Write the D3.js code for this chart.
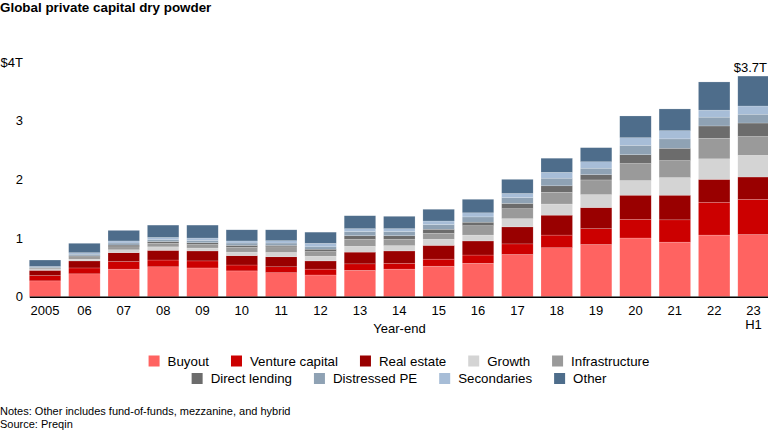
<!DOCTYPE html>
<html>
<head>
<meta charset="utf-8">
<script src="https://cdn.jsdelivr.net/npm/d3@7"></script>
<style>
  body { margin: 0; background: #fff; }
  svg { display: block; font-family: "Liberation Sans", Arial, sans-serif; }
  .axis text { font-size: 13px; fill: #000; }
</style>
</head>
<body>
<div id="chart-area"></div>
<script>
// SVG size
var width = 768,
	height = 432;

// Data (trillions of US$)
var years = ["2005", "06", "07", "08", "09", "10", "11", "12", "13", "14", "15", "16", "17", "18", "19", "20", "21", "22", "23"];
var types = ["Buyout", "Venture capital", "Real estate", "Growth", "Infrastructure", "Direct lending", "Distressed PE", "Secondaries", "Other"];
var colors = ["#ff6361", "#cc0000", "#990000", "#d4d4d4", "#9a9a9a", "#6c6c6c", "#8fa2b4", "#a7bdd7", "#4e6d8b"];

var buyout         = [0.27, 0.39, 0.47, 0.51, 0.49, 0.44, 0.41, 0.37, 0.45, 0.47, 0.52, 0.57, 0.72, 0.835, 0.89, 1.00, 0.93, 1.05, 1.06];
var ventureCapital = [0.09, 0.10, 0.13, 0.115, 0.12, 0.10, 0.10, 0.10, 0.11, 0.10, 0.12, 0.14, 0.18, 0.215, 0.27, 0.32, 0.38, 0.56, 0.60];
var realEstate     = [0.09, 0.12, 0.15, 0.165, 0.17, 0.16, 0.17, 0.14, 0.20, 0.21, 0.235, 0.24, 0.29, 0.34, 0.36, 0.41, 0.42, 0.39, 0.38];
var growth         = [0.015, 0.03, 0.05, 0.06, 0.05, 0.06, 0.075, 0.08, 0.10, 0.09, 0.105, 0.10, 0.14, 0.19, 0.22, 0.25, 0.30, 0.35, 0.37];
var infrastructure = [0.015, 0.04, 0.05, 0.06, 0.06, 0.08, 0.095, 0.08, 0.12, 0.11, 0.10, 0.16, 0.17, 0.20, 0.25, 0.29, 0.29, 0.35, 0.32];
var directLending  = [0.01, 0.015, 0.03, 0.03, 0.03, 0.035, 0.025, 0.04, 0.06, 0.06, 0.07, 0.06, 0.09, 0.11, 0.09, 0.15, 0.21, 0.21, 0.23];
var distressedPE   = [0.015, 0.03, 0.035, 0.03, 0.04, 0.04, 0.04, 0.04, 0.07, 0.07, 0.08, 0.09, 0.10, 0.13, 0.11, 0.16, 0.16, 0.15, 0.15];
var secondaries    = [0.01, 0.025, 0.035, 0.04, 0.04, 0.035, 0.04, 0.06, 0.05, 0.05, 0.06, 0.07, 0.07, 0.10, 0.11, 0.13, 0.14, 0.12, 0.14];
var other          = [0.11, 0.16, 0.18, 0.21, 0.22, 0.19, 0.185, 0.19, 0.22, 0.21, 0.20, 0.23, 0.24, 0.24, 0.24, 0.37, 0.37, 0.48, 0.51];

var yTicks = [0, 1, 2, 3, 4];
var yTickLabels = ["0", "1", "2", "3", "$4T"];

var series = [buyout, ventureCapital, realEstate, growth, infrastructure, directLending, distressedPE, secondaries, other];

// build table for the stack
var data = years.map(function(y, i) {
	var row = { year: y };
	types.forEach(function(t, k) { row[t] = series[k][i]; });
	return row;
});

var stacked = d3.stack().keys(types)(data);

var x = d3.scaleBand()
	.domain(years)
	.range([29.3, 769.3])
	.paddingInner(0.2)
	.paddingOuter(0);

var y = d3.scaleLinear()
	.domain([0, 4])
	.range([296.7, 62]);

var color = d3.scaleOrdinal().domain(types).range(colors);

var svg = d3.select("#chart-area")
	.append("svg")
	.attr("width", width)
	.attr("height", height);

// title
svg.append("text")
	.attr("x", 0)
	.attr("y", 12)
	.style("font-size", "13.4px")
	.style("font-weight", "bold")
	.text("Global private capital dry powder");

// bars
svg.append("g")
	.selectAll("g")
	.data(stacked)
	.enter()
	.append("g")
	.attr("fill", function(d) { return color(d.key); })
	.selectAll("rect")
	.data(function(d) { return d; })
	.enter()
	.append("rect")
	.attr("x", function(d) { return x(d.data.year); })
	.attr("width", x.bandwidth())
	.attr("y", function(d) { return y(d[1]); })
	.attr("height", function(d) { return y(d[0]) - y(d[1]); })
	.attr("stroke", "#fff")
	.attr("stroke-opacity", 0.35)
	.attr("stroke-width", 0.5);

// total label on last bar
var last = data[data.length - 1];
var lastTotal = d3.sum(types, function(t) { return last[t]; });
svg.append("text")
	.attr("x", width - 1)
	.attr("y", y(lastTotal) - 4)
	.attr("text-anchor", "end")
	.style("font-size", "13px")
	.text("$3.7T");

// x axis
var xAxis = d3.axisBottom(x).tickSize(0).tickPadding(9);
var gx = svg.append("g")
	.attr("class", "axis x-axis")
	.attr("transform", "translate(0," + y(0) + ")")
	.call(xAxis);
gx.select(".domain").attr("stroke", "#000").attr("stroke-width", 1.6);

gx.append("text")
	.attr("x", x("23") + x.bandwidth() / 2)
	.attr("y", 32.5)
	.attr("text-anchor", "middle")
	.text("H1");

svg.append("text")
	.attr("x", 399.5)
	.attr("y", 333)
	.attr("text-anchor", "middle")
	.style("font-size", "13px")
	.text("Year-end");

// y axis
var yAxis = d3.axisLeft(y)
	.tickValues(yTicks)
	.tickFormat(function(d, i) { return yTickLabels[i]; })
	.tickSize(0)
	.tickPadding(0);
var gy = svg.append("g")
	.attr("class", "axis y-axis")
	.attr("transform", "translate(23,0)")
	.call(yAxis);
gy.select(".domain").remove();

// legend
var legendRows = [types.slice(0, 5), types.slice(5)];
var legendY = [355.5, 373];
legendRows.forEach(function(row, r) {
	var g = svg.append("g");
	var cx = 0;
	row.forEach(function(t) {
		var item = g.append("g").attr("transform", "translate(" + cx + ",0)");
		item.append("rect")
			.attr("width", 11)
			.attr("height", 11)
			.attr("fill", color(t));
		var txt = item.append("text")
			.attr("x", 19)
			.attr("y", 10.2)
			.style("font-size", "13.3px")
			.text(t);
		cx += 19 + txt.node().getComputedTextLength() + 22;
	});
	var w = cx - 22;
	g.attr("transform", "translate(" + (399 - w / 2) + "," + legendY[r] + ")");
});

// notes
svg.append("text")
	.attr("x", 0)
	.attr("y", 415)
	.style("font-size", "11px")
	.text("Notes: Other includes fund-of-funds, mezzanine, and hybrid");
svg.append("text")
	.attr("x", 0)
	.attr("y", 427.5)
	.style("font-size", "11px")
	.text("Source: Preqin");
</script>
</body>
</html>
